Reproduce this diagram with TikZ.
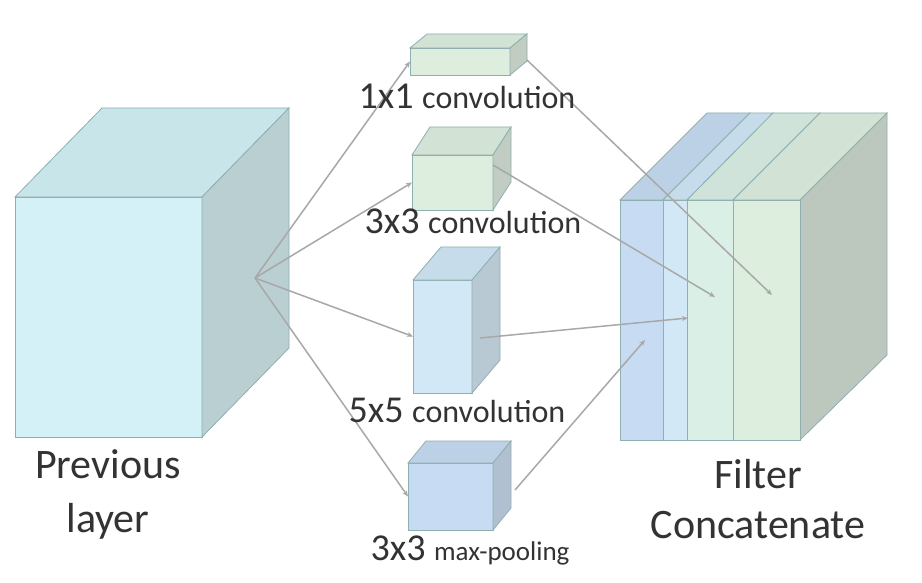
\documentclass[tikz,border=0pt]{standalone}
\usepackage{fontspec}
\setmainfont{Carlito}
\usetikzlibrary{arrows.meta,calc}
\newcommand{\mybox}[8]{% x1 y1 x2 y2 dx dy frontcol name
 \fill[#7,draw=edge,line width=0.8pt] (#1,#2) rectangle (#3,#4);
 \fill[#7!95!black,draw=edge,line width=0.8pt] (#1,#2) -- ++(#5,#6) -- ($(#3,#2)+(#5,#6)$) -- (#3,#2) -- cycle;
 \fill[#7!70!gray,draw=edge,line width=0.8pt] (#3,#2) -- ++(#5,#6) -- ($(#3,#4)+(#5,#6)$) -- (#3,#4) -- cycle;
 \coordinate (#8-l) at (#1,{(#2+#4)/2});
}
\definecolor{edge}{HTML}{8FAFB0}
\definecolor{cyanf}{HTML}{D3F1F6}
\definecolor{greenf}{HTML}{DDEEDF}
\definecolor{bluef}{HTML}{D2E8F7}
\definecolor{blue2}{HTML}{C7DCF2}
\definecolor{arr}{HTML}{A8A8A8}
\tikzset{conn/.style={draw=arr,line width=1.5pt,-{Stealth[length=6pt,width=5pt]}},
 lab/.style={font=\fontsize{38}{40}\selectfont,text=black!80,align=center}}
\begin{document}
\begin{tikzpicture}[x=1pt,y=-1pt]
\useasboundingbox (0,0) rectangle (922,583);
\fill[white] (0,0) rectangle (922,583);
\mybox{15}{197}{202}{437}{87}{-89}{cyanf}{prev}
\coordinate (src) at (255,278);
\mybox{410}{48}{510}{75}{17}{-14}{greenf}{b1}
\mybox{412}{155}{493}{210}{18}{-28}{greenf}{b3}
\mybox{413}{280}{472}{393}{28}{-33}{bluef}{b5}
\mybox{408}{463}{493}{530}{18}{-22}{blue2}{bm}
% concatenate
\fill[greenf!65!gray,draw=edge,line width=0.8pt] (800,200) -- (887,113) -- (887,355) -- (800,440) -- cycle;
\fill[blue2!95!black,draw=edge,line width=0.8pt] (620,200) -- (707,113) -- (750,113) -- (663,200) -- cycle;
\fill[bluef!95!black,draw=edge,line width=0.8pt] (663,200) -- (750,113) -- (773,113) -- (687,200) -- cycle;
\fill[greenf!70!cyanf!95!black,draw=edge,line width=0.8pt] (687,200) -- (773,113) -- (820,113) -- (733,200) -- cycle;
\fill[greenf!95!black,draw=edge,line width=0.8pt] (733,200) -- (820,113) -- (887,113) -- (800,200) -- cycle;
\fill[blue2,draw=edge,line width=0.8pt] (620,200) rectangle (663,440);
\fill[bluef,draw=edge,line width=0.8pt] (663,200) rectangle (687,440);
\fill[greenf!70!cyanf,draw=edge,line width=0.8pt] (687,200) rectangle (733,440);
\fill[greenf,draw=edge,line width=0.8pt] (733,200) rectangle (800,440);
\coordinate (t1) at (772,295);
\coordinate (t3) at (715,297);
\coordinate (t5) at (688,318);
\coordinate (tm) at (645,340);
\coordinate (s1) at (527,60);
\coordinate (s3) at (493,165);
\coordinate (s5) at (480,338);
\coordinate (sm) at (515,490);
\draw[conn] (src) -- (b1-l);
\draw[conn] (src) -- (b3-l);
\draw[conn] (src) -- (b5-l);
\draw[conn] (src) -- (bm-l);
\draw[conn] (s1) -- (t1);
\draw[conn] (s3) -- (t3);
\draw[conn] (s5) -- (t5);
\draw[conn] (sm) -- (tm);
\node[lab] (l1) at (467,96) {1x1 {\fontsize{32}{34}\selectfont convolution}};
\node[lab] (l3) at (473,221) {3x3 {\fontsize{32}{34}\selectfont convolution}};
\node[lab] (l5) at (457,410) {5x5 {\fontsize{32}{34}\selectfont convolution}};
\node[lab] (lm) at (470,550) {3x3 {\fontsize{27}{29}\selectfont max-pooling}};
\node[lab,font=\fontsize{42}{54}\selectfont] (lp) at (108,494) {Previous\\layer};
\node[lab,font=\fontsize{42}{50}\selectfont] (lf) at (758,499) {Filter\\Concatenate};
\end{tikzpicture}
\end{document}
